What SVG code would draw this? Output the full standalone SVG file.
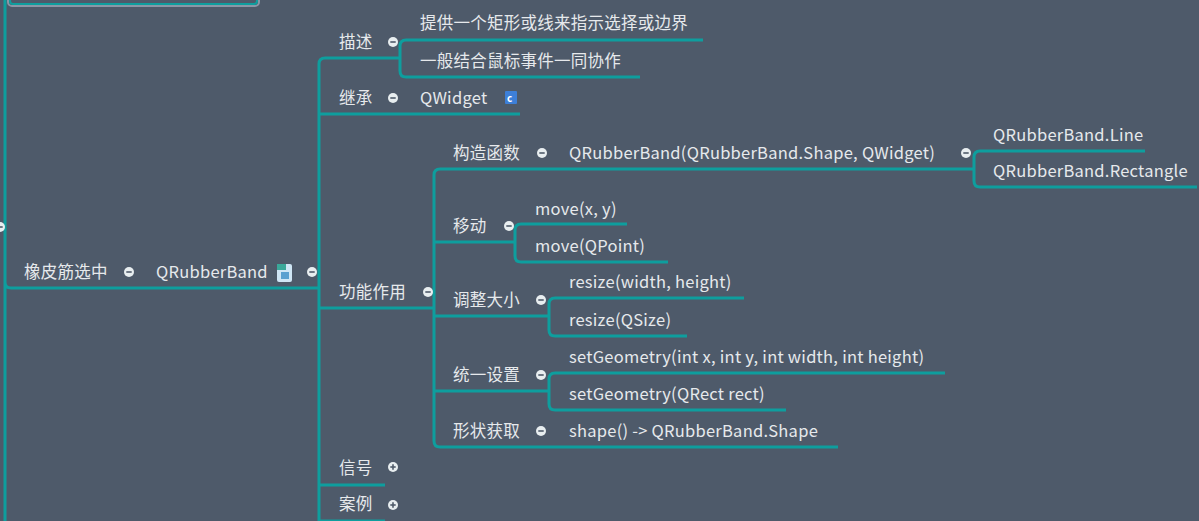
<svg xmlns="http://www.w3.org/2000/svg" width="1199" height="521" viewBox="0 0 1199 521">
<style>
text{font-family:"Noto Sans CJK SC","Noto Sans",sans-serif;font-size:16.5px;letter-spacing:0.25px;fill:#e6e9ec}
.l{fill:none;stroke:#0e9e9e;stroke-width:3;stroke-linejoin:round}
.c{fill:#e8eef0;stroke:none}
.m{stroke:#4e5a6a;stroke-width:1.6}
</style>
<defs>
<g id="minus"><circle class="c" r="5"/><line class="m" x1="-2.7" y1="0" x2="2.7" y2="0"/></g>
<g id="plus"><circle class="c" r="5"/><line class="m" x1="-2.7" y1="0" x2="2.7" y2="0"/><line class="m" x1="0" y1="-2.7" x2="0" y2="2.7"/></g>
</defs>
<rect width="1199" height="521" fill="#4e5a6a"/>
<rect x="8" y="-12" width="251" height="18" rx="4" fill="none" stroke="#8a97a6" stroke-width="2"/>
<rect x="10" y="-10" width="247" height="14" rx="3" fill="none" stroke="#0e9e9e" stroke-width="2"/>
<g id="connectors">
<path class="l" d="M5 0V521M5 282Q5 288 11 288H319"/>
<path class="l" d="M319 521V64Q319 58 325 58H400M319 114H520M319 308H434M319 485H385M319 521H385"/>
<path class="l" d="M400 58V46Q400 40 406 40H703M400 58V71Q400 77 406 77H640"/>
<path class="l" d="M434 308V175Q434 169 440 169H974M434 308V441Q434 447 440 447H838M434 242H515M434 316H549M434 391H549"/>
<path class="l" d="M974 169V157Q974 151 980 151H1145M974 169V181Q974 187 980 187H1197"/>
<path class="l" d="M515 242V230Q515 224 521 224H627M515 242V256Q515 262 521 262H668"/>
<path class="l" d="M549 316V304Q549 298 555 298H744M549 316V330Q549 336 555 336H687"/>
<path class="l" d="M549 391V379Q549 373 555 373H945M549 391V404Q549 410 555 410H786"/>
</g>
<use href="#minus" x="0" y="227"/>
<g id="root"><text x="24" y="278">橡皮筋选中</text><use href="#minus" x="129" y="272"/></g>
<g id="qrb"><text x="156" y="278">QRubberBand</text>
<rect x="277" y="264" width="15" height="18" rx="2" fill="#cfe6f5"/><rect x="277" y="264" width="9" height="6" fill="#3aa89a"/><rect x="281" y="272" width="8" height="7" fill="#5aa0d0"/>
<use href="#minus" x="312" y="272"/></g>
<g id="n-desc"><text x="339" y="48">描述</text><use href="#minus" x="393" y="42"/></g>
<g id="n-d1"><text x="420" y="29">提供一个矩形或线来指示选择或边界</text></g>
<g id="n-d2"><text x="420" y="67">一般结合鼠标事件一同协作</text></g>
<g id="n-inh"><text x="339" y="104">继承</text><use href="#minus" x="393" y="98"/></g>
<g id="n-qw"><text x="420" y="104">QWidget</text><rect x="505" y="91" width="12" height="13" rx="1" fill="#3d7fd8"/><text x="507" y="102" style="font-size:10px;font-weight:bold;fill:#fff">c</text></g>
<g id="n-func"><text x="339" y="298">功能作用</text><use href="#minus" x="428" y="292"/></g>
<g id="n-sig"><text x="339" y="474">信号</text><use href="#plus" x="393" y="467"/></g>
<g id="n-case"><text x="339" y="510">案例</text><use href="#plus" x="393" y="505"/></g>
<g id="n-ctor"><text x="453" y="159">构造函数</text><use href="#minus" x="542" y="153"/></g>
<g id="n-ctor1"><text x="569" y="159">QRubberBand(QRubberBand.Shape, QWidget)</text><use href="#minus" x="966" y="153"/></g>
<g id="n-line"><text x="993" y="141">QRubberBand.Line</text></g>
<g id="n-rect"><text x="993" y="177">QRubberBand.Rectangle</text></g>
<g id="n-move"><text x="453" y="232">移动</text><use href="#minus" x="509" y="226"/></g>
<g id="n-m1"><text x="535" y="215">move(x, y)</text></g>
<g id="n-m2"><text x="535" y="252">move(QPoint)</text></g>
<g id="n-size"><text x="453" y="306">调整大小</text><use href="#minus" x="541" y="300"/></g>
<g id="n-s1"><text x="569" y="288">resize(width, height)</text></g>
<g id="n-s2"><text x="569" y="326">resize(QSize)</text></g>
<g id="n-geo"><text x="453" y="381">统一设置</text><use href="#minus" x="541" y="375"/></g>
<g id="n-g1"><text x="569" y="363">setGeometry(int x, int y, int width, int height)</text></g>
<g id="n-g2"><text x="569" y="400">setGeometry(QRect rect)</text></g>
<g id="n-shape"><text x="453" y="437">形状获取</text><use href="#minus" x="541" y="431"/></g>
<g id="n-sh1"><text x="569" y="437">shape() -&gt; QRubberBand.Shape</text></g>
</svg>
